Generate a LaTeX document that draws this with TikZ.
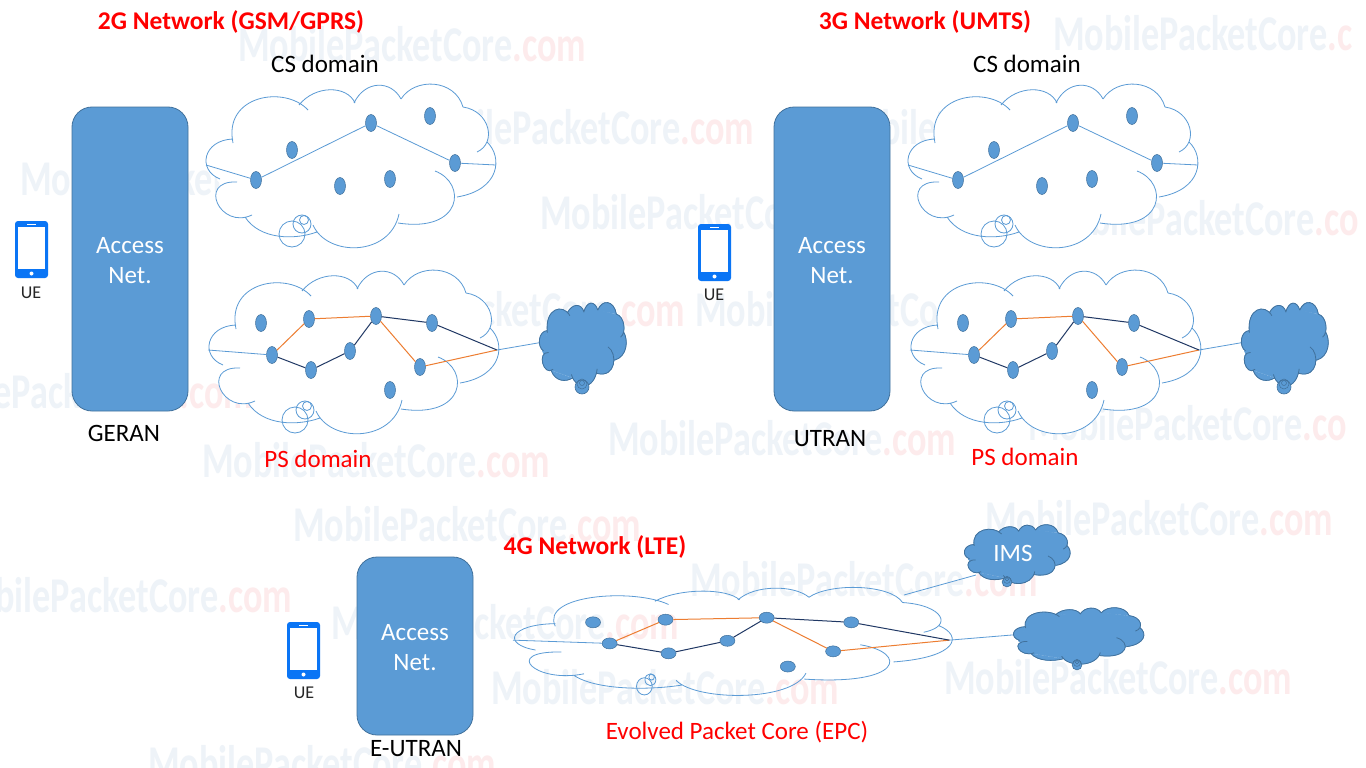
\documentclass[tikz,border=0pt]{standalone}
\usepackage{fontspec}
\setmainfont{Carlito}
\usetikzlibrary{shapes.geometric}

\definecolor{netblue}{HTML}{5B9BD5}
\definecolor{netedge}{HTML}{41719C}
\definecolor{netorange}{HTML}{ED7D31}
\definecolor{netnavy}{HTML}{203864}
\definecolor{uephone}{HTML}{0A75F5}
\definecolor{wmblue}{HTML}{EEF3F8}
\definecolor{wmred}{HTML}{FDEBEC}

% lobes of one cloud, traced at 291 x 162
\def\cloudlobes{
	(28,58) .. controls (18,10) and (80,0) .. (103,25)
	(94,20) .. controls (110,0) and (142,0) .. (150,18)
	(149,18) .. controls (160,-5) and (186,-5) .. (196,14)
	(196,14) .. controls (210,-8) and (250,-6) .. (258,22)
	(258,22) .. controls (285,26) and (292,58) .. (272,67)
	(282,57) .. controls (298,72) and (295,105) .. (252,112)
	(230,86) .. controls (262,98) and (258,148) .. (193,138)
	(194,129) .. controls (185,172) and (122,172) .. (108,140)
	(112,147) .. controls (90,155) and (55,155) .. (40,132)
	(47,130) .. controls (15,145) and (-8,95) .. (32,97)
	(15,94) .. controls (-8,85) and (-2,55) .. (28,54)
}
\newcommand{\drawcloud}{
	\path[cloudfill] (29,52) -- (97,20) -- (150,15) -- (196,13) -- (258,23) -- (284,60) -- (250,114) -- (190,138) -- (111,146) -- (43,132) -- (12,95) -- cycle;
	\path[cloudfill] \cloudlobes;
	\path[cloudline] \cloudlobes;
	\coordinate (-w) at (0,78);
}
\newcommand{\drawbubbles}{
	\begin{scope}[shift={(87,149)},bubblescale]
		\draw[lightline] (0,0) circle[radius=13];
		\draw[lightline] (10,-10) circle[radius=9];
		\draw[lightline] (12,-14) circle[radius=4.5];
	\end{scope}
}

\tikzset{
	lightline/.style={draw=netblue,line width=0.8pt},
	orangeline/.style={draw=netorange,line width=1pt},
	navyline/.style={draw=netnavy,line width=1pt},
	cloudfill/.style={fill=white},
	cloudline/.style={lightline},
	bubblescale/.style={},
	netnode/.style={ellipse,draw=netedge,fill=netblue,line width=0.5pt,inner sep=0pt,minimum width=11pt,minimum height=17pt},
	accessbox/.style={rectangle,rounded corners=20pt,draw=netedge,fill=netblue,line width=0.8pt,text=white,align=center,minimum width=116pt,font=\fontsize{25}{30}\selectfont},
	blacklabel/.style={text=black,inner sep=0pt,font=\fontsize{25}{28}\selectfont},
	redlabel/.style={text=red,inner sep=0pt,font=\fontsize{25}{28}\selectfont},
	titlelabel/.style={text=red,inner sep=0pt,font=\fontsize{25.5}{28}\selectfont\bfseries},
	uelabel/.style={text=black!85,inner sep=0pt,font=\fontsize{18}{20}\selectfont},
	watermark/.style={anchor=west,inner sep=0pt,xscale=0.724,transform shape,text=wmblue,font=\fontsize{50}{54}\selectfont\bfseries},
	bluecloud/.pic={
		\tikzset{cloudfill/.style={fill=netblue,draw=netblue,line width=0.6pt},cloudline/.style={draw=netedge,line width=0.8pt}}
		\drawcloud
	},
	dropbubble/.pic={
		\draw[draw=netedge,fill=netblue,line width=0.6pt] (0,0) circle[radius=7];
		\draw[draw=netedge,line width=0.5pt] (0,-3) circle[radius=5];
		\draw[draw=netedge,line width=0.5pt] (0,-4) circle[radius=2.5];
	},
	phone/.pic={
		\fill[uephone,rounded corners=3pt] (0,0) rectangle (33,57);
		\fill[white] (3,6) rectangle (30,48);
		\draw[white,line width=0.8pt] (12,3) -- (21,3);
		\fill[white] (16.5,52.5) circle[radius=2];
	},
	% CS domain: one route through the cloud
	csnet/.pic={
		\drawcloud
		\drawbubbles
		\node[netnode] (-a) at (51,95) {};
		\node[netnode] (-b) at (87,65) {};
		\node[netnode] (-d) at (166,38) {};
		\node[netnode] (-e) at (225,31) {};
		\node[netnode] (-f) at (250,78) {};
		\node[netnode] (-g) at (135,101) {};
		\node[netnode] (-h) at (185,94) {};
		\coordinate (-l) at (1,80);
		\coordinate (-r) at (291,80);
		\draw[lightline] (-l) -- (-a);
		\draw[lightline] (-a) -- (-d);
		\draw[lightline] (-d) -- (-f);
		\draw[lightline] (-f) -- (-r);
	},
	% packet core: two routes, orange and navy
	packetnet/.pic={
		\drawcloud
		\drawbubbles
		\node[netnode] (-a) at (53,52) {};
		\node[netnode] (-b) at (101,48) {};
		\node[netnode] (-d) at (168,45) {};
		\node[netnode] (-e) at (224,52) {};
		\node[netnode] (-f) at (64,84) {};
		\node[netnode] (-g) at (103,99) {};
		\node[netnode] (-h) at (142,80) {};
		\node[netnode] (-i) at (212,96) {};
		\node[netnode] (-k) at (182,119) {};
		\coordinate (-l) at (0,79);
		\coordinate (-j) at (289,79);
		\draw[lightline] (-l) -- (-f);
		\draw[orangeline] (-f) -- (-b);
		\draw[orangeline] (-b) -- (-d);
		\draw[orangeline] (-d) -- (-i);
		\draw[orangeline] (-i) -- (-j);
		\draw[navyline] (-f) -- (-g);
		\draw[navyline] (-g) -- (-h);
		\draw[navyline] (-h) -- (-d);
		\draw[navyline] (-d) -- (-e);
		\draw[navyline] (-e) -- (-j);
	},
}

\begin{document}
\begin{tikzpicture}[x=1pt,y=-1pt]
	\useasboundingbox (0,0) rectangle (1366,768);
	\fill[white] (0,0) rectangle (1366,768);

	% Watermarks
	\foreach \wx/\wy/\wend in {238/44/com,1053/33/c,406/127/com,830/127/com,20/178/com,540/212/com,1040/218/co,337/309/com,695/309/com,-95/391/com,202/460/com,608/438/com,1028/423/co,293/524/com,985/518/com,-56/595/com,690/579/com,331/622/com,491/687/com,944/677/com,148/763/com}
		\node[watermark] (wm\wx) at (\wx,\wy) {MobilePacketCore{\color{wmred}.\wend}};

	% 2G network
	\node[titlelabel] (title2g) at (231,22) {2G Network (GSM/GPRS)};
	\node[blacklabel] (cs2g) at (325,64) {CS domain};
	\node[accessbox,minimum height=304pt] (geran) at (130,259) {\rule{0pt}{20pt}Access\\Net.};
	\node[blacklabel] (geranlabel) at (124,433) {GERAN};
	\pic (ue2g) at (15,221) {phone};
	\node[uelabel] (uelabel2g) at (31,293) {UE};
	\pic (gsmcs) at (205,85) {csnet};
	\pic (gprs) at (208,271) {packetnet};
	\node[redlabel] (ps2g) at (318,459) {PS domain};
	\pic[xscale=0.3,yscale=0.51] (pdn2g) at (539,303) {bluecloud};
	\pic at (582,387) {dropbubble};
	\draw[lightline] (gprs-j) -- (pdn2g-w);

	% 3G network
	\node[titlelabel] (title3g) at (925,22) {3G Network (UMTS)};
	\node[blacklabel] (cs3g) at (1027,64) {CS domain};
	\node[accessbox,minimum height=304pt] (utran) at (832,259) {\rule{0pt}{20pt}Access\\Net.};
	\node[blacklabel] (utranlabel) at (830,439) {UTRAN};
	\pic (ue3g) at (698,224) {phone};
	\node[uelabel] (uelabel3g) at (714,295) {UE};
	\pic (umtscs) at (907,85) {csnet};
	\pic (umtsps) at (910,271) {packetnet};
	\node[redlabel] (ps3g) at (1025,457) {PS domain};
	\pic[xscale=0.3,yscale=0.51] (pdn3g) at (1241,303) {bluecloud};
	\pic at (1284,387) {dropbubble};
	\draw[lightline] (umtsps-j) -- (pdn3g-w);

	% 4G network
	\node[titlelabel] (title4g) at (595,547) {4G Network (LTE)};
	\node[accessbox,minimum height=178pt] (eutran) at (415,646) {\rule{0pt}{20pt}Access\\Net.};
	\node[blacklabel] (eutranlabel) at (416,749) {E-UTRAN};
	\pic (ue4g) at (287,622) {phone};
	\node[uelabel] (uelabel4g) at (304,693) {UE};
	\pic[xscale=1.51,yscale=0.66,cloudfill/.style={},bubblescale/.style={xscale=0.4},netnode/.append style={minimum width=15pt,minimum height=11pt}] (epc) at (513,588) {packetnet};
	\node[redlabel] (epclabel) at (737,732) {Evolved Packet Core (EPC)};
	\pic[xscale=0.365,yscale=0.36] (imscloud) at (964,525) {bluecloud};
	\pic[scale=0.7] at (1007,582) {dropbubble};
	\node[text=white,inner sep=0pt,font=\fontsize{25}{28}\selectfont] (imslabel) at (1013,553) {IMS};
	\pic[xscale=0.45,yscale=0.345] (pdn4g) at (1013,608) {bluecloud};
	\pic[scale=0.7] at (1077,665) {dropbubble};
	\coordinate (imsfoot) at (904,595);
	\coordinate (imstop) at (976,575);
	\draw[lightline] (imsfoot) -- (imstop);
	\draw[lightline] (epc-j) -- (pdn4g-w);
\end{tikzpicture}
\end{document}
